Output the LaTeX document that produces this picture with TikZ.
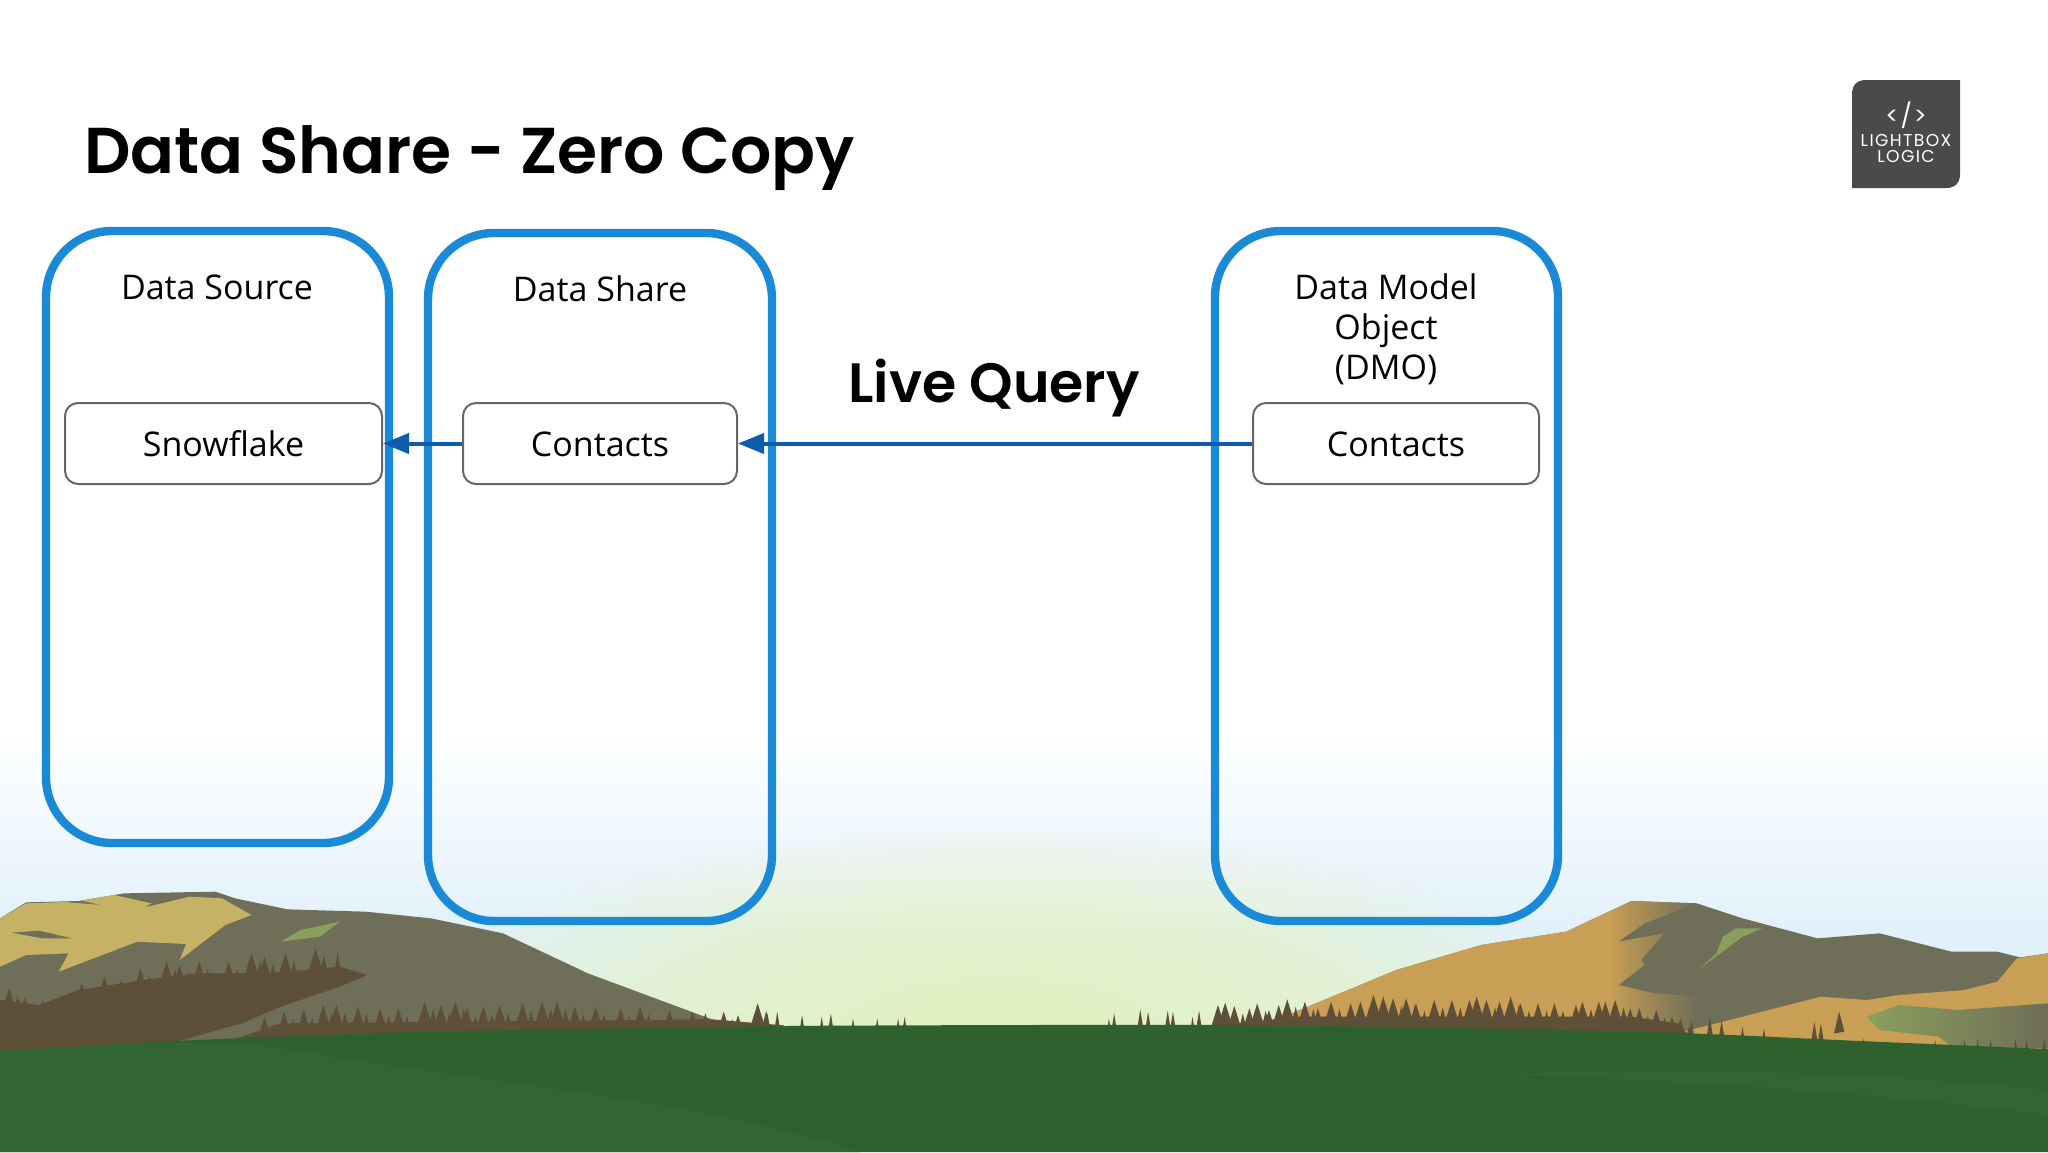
\documentclass[tikz,border=0pt]{standalone}
\usepackage{fontspec}
\setmainfont{Open Sans}
\newfontfamily\titlefont[UprightFont=* SemiBold,BoldFont=* SemiBold]{Poppins}
\newfontfamily\logofont[LetterSpace=8]{Poppins}
\usetikzlibrary{arrows.meta}
\definecolor{blueframe}{HTML}{1A8AD6}
\definecolor{arrowblue}{HTML}{0F5CAD}
\definecolor{boxedge}{HTML}{666666}
\definecolor{logogrey}{HTML}{4A4A4A}
\definecolor{skyblue}{HTML}{E1F1FA}
\definecolor{glowcol}{HTML}{FAF3B8}
\definecolor{rock}{HTML}{6F6E58}
\definecolor{forestcol}{HTML}{5D4F38}
\definecolor{sand}{HTML}{C6B264}
\definecolor{gold}{HTML}{C99F55}
\definecolor{leaf}{HTML}{8A9F5C}
\definecolor{grassbase}{HTML}{2E612E}
\definecolor{grasslight}{HTML}{326533}
\pgfdeclarehorizontalshading{goldrock}{100bp}{color(0bp)=(gold);color(25bp)=(gold);color(60bp)=(gold);color(70bp)=(rock);color(100bp)=(rock)}
\pgfdeclarehorizontalshading{leafrock}{100bp}{color(0bp)=(leaf);color(25bp)=(leaf);color(75bp)=(rock);color(100bp)=(rock)}
\newcommand{\treetips}[1]{\foreach \t/\h in {#1}{\fill[forestcol] (\t-16,\h+100) -- (\t,\h) -- (\t+16,\h+100) -- cycle; \fill[forestcol] (\t+1,\h+120) -- (\t+13,\h+22) -- (\t+25,\h+120) -- cycle;}}
\newcommand{\smalltips}[1]{\foreach \t/\h in {#1}{\fill[forestcol] (\t-8,\h+100) -- (\t,\h) -- (\t+8,\h+100) -- cycle;}}
\tikzset{
  frame/.style={draw=blueframe,line width=4.2pt,rounded corners=33pt},
  itembox/.style={draw=boxedge,line width=1pt,fill=white,rounded corners=6.5pt,inner sep=0pt,font=\fontsize{17}{20}\selectfont,text=black,text depth=0pt,text height=13.2pt},
  heading/.style={font=\fontsize{17}{20}\selectfont,text=black,align=center,inner sep=0pt},
  flow/.style={draw=arrowblue,line width=2pt,-{Triangle[length=13pt,width=10pt]}},
  zoomleft/.style={shift={(0pt,-420pt)},x=0.32658pt,y=-0.16667pt},
  zoomright/.style={shift={(512pt,-420pt)},x=0.32658pt,y=-0.16667pt}
}
\begin{document}
\begin{tikzpicture}[x=0.5pt,y=-0.5pt]
\useasboundingbox (0,0) rectangle (2048,1152);
% sky
\fill[white] (0,0) rectangle (2048,1152);
\shade[top color=white,bottom color=skyblue] (0,730) rectangle (2048,930);
\fill[skyblue] (0,929) rectangle (2048,1152);
\begin{scope}
\clip (0,0) rectangle (2048,1060);
\foreach \r in {1,...,40}{
  \fill[glowcol,opacity=0.035] (1000,1030) ellipse ({15*\r} and {5*\r});
}
\end{scope}
% left mountain
\begin{scope}[zoomleft]
\fill[rock] (0,235) -- (40,187) -- (120,183) -- (190,160) -- (330,155) -- (360,175) -- (440,208) -- (560,215) -- (660,235) -- (770,280) -- (900,400) -- (1120,560) -- (1120,650) -- (0,650) -- cycle;
\fill[sand] (0,235) -- (40,190) -- (100,186) -- (155,195) -- (125,182) -- (175,165) -- (232,190) -- (222,202) -- (290,170) -- (340,175) -- (385,225) -- (345,255) -- (275,360) -- (285,312) -- (210,305) -- (90,395) -- (105,340) -- (40,345) -- (0,380) -- cycle;
\fill[rock] (18,278) -- (60,272) -- (110,295) -- (65,295) -- cycle;
\fill[leaf] (430,305) -- (460,270) -- (520,245) -- (490,290) -- cycle;
\fill[forestcol] (0,650) -- (0,480) -- (60,495) -- (120,450) -- (220,420) -- (300,400) -- (370,400) -- (440,395) -- (520,380) -- (562,405) -- (520,440) -- (430,500) -- (370,550) -- (270,605) -- (270,650) -- cycle;
\treetips{14/445,38/470,65/480,100/470,125/430,160/410,185/420,215/385,255/365,275/375,305/365,350/365,385/340,405/350,437/340,483/325}
\smalltips{517/335}
\fill[forestcol] (340,610) -- (430,550) -- (1090,538) -- (1200,556) -- (1200,620) -- cycle;
\treetips{405/530,435/515,465/510,495/495,515/495,548/500,582/505,610/505,650/485,675/495,697/485,715/505,740/500,765/495,800/490,830/485,853/485,880/500,912/500,950/505,980/500,1025/510,1060/515,1080/520,1108/515,1130/525,1160/490}
\smalltips{1175/520,1190/515,1228/525,1258/530,1272/520,1306/535,1343/535,1375/535,1385/530}
\end{scope}
% right mountain
\begin{scope}[zoomright]
\fill[rock] (410,520) -- (570,390) -- (700,315) -- (830,275) -- (930,183) -- (1030,190) -- (1100,235) -- (1215,295) -- (1310,280) -- (1420,335) -- (1490,335) -- (1525,352) -- (1568,340) -- (1568,650) -- (410,650) -- cycle;
\shade[shading=goldrock] (410,520) -- (570,390) -- (700,315) -- (830,275) -- (930,183) -- (1030,190) -- (950,250) -- (910,305) -- (980,280) -- (945,360) -- (950,375) -- (910,435) -- (965,460) -- (1040,470) -- (1100,600) -- (410,600) -- cycle;
\fill[gold] (1010,575) -- (1100,530) -- (1220,470) -- (1290,480) -- (1340,465) -- (1440,450) -- (1490,425) -- (1520,355) -- (1568,340) -- (1568,650) -- (1000,650) -- cycle;
\shade[shading=leafrock] (1290,530) -- (1340,495) -- (1430,510) -- (1568,490) -- (1568,625) -- (1420,620) -- (1400,590) -- (1310,570) -- cycle;
\fill[leaf] (1130,265) -- (1090,265) -- (1070,290) -- (1060,340) -- (1035,385) -- (1080,320) -- (1100,290) -- cycle;
\fill[forestcol] (280,560) -- (420,530) -- (930,530) -- (1000,550) -- (1030,610) -- (280,610) -- cycle;
\smalltips{130/535,138/520,178/508,190/515,220/512,228/515,258/530,268/512}
\treetips{297/495,308/488,322/498,345/505,357/490,375/510,390/495,403/478,430/485,450/505,470/485,500/490,515/485,535/465,550/470,565/475,585/475,600/490,628/480,655/480,682/480,693/470,708/480,728/485,745/470,760/490,787/490,812/490,845/495,855/485,880/485,890/485,905/480,928/505,942/505,968/510,992/530,1005/535}
\smalltips{1022/540,1050/530,1068/540,1100/560,1133/565,1150/590,1210/545,1220/550,1285/595,1395/600,1440/600,1460/598,1480/600,1518/598,1535/600,1562/595}
\fill[forestcol] (1240,580) -- (1248,515) -- (1256,575) -- cycle;
\end{scope}
% grass
\fill[grassbase] plot[smooth,tension=0.6] coordinates {(0,1051) (196,1040) (420,1032) (653,1028) (784,1026) (1024,1025) (1220,1025) (1450,1028) (1677,1033) (1860,1041) (2048,1049)} -- (2048,1152) -- (0,1152) -- cycle;
\fill[grasslight] (0,1051) .. controls (120,1044) and (220,1038) .. (290,1050) .. controls (500,1085) and (700,1100) .. (860,1152) -- (0,1152) -- cycle;
\fill[grasslight] (1500,1075) .. controls (1700,1080) and (1900,1095) .. (2048,1115) -- (2048,1090) .. controls (1900,1075) and (1700,1065) .. (1500,1075) -- cycle;
% frames
\draw[frame] (46,231) rectangle (389,843);
\draw[frame] (428,233) rectangle (772,921);
\draw[frame] (1215,231) rectangle (1558,921);
% headings
\node[heading] (dsrc) at (217,287) {Data Source};
\node[heading] (dshr) at (600,288.5) {Data Share};
\node[heading] (dmo) at (1386,329) {Data Model\\Object\\(DMO)};
% item boxes
\node[itembox,minimum width=158.5pt,minimum height=40.5pt] (snow) at (223.5,443.5) {Snowflake};
\node[itembox,minimum width=137pt,minimum height=40.5pt] (cmid) at (600,443.5) {Contacts};
\node[itembox,minimum width=143pt,minimum height=40.5pt] (cdmo) at (1396,443.5) {Contacts};
\draw[flow] (cmid.west) -- (snow.east);
\draw[flow] (cdmo.west) -- (cmid.east);
% title texts
\node[anchor=west,inner sep=0pt,font=\titlefont\fontsize{32.4}{36}\selectfont] (ttl) at (84,158) {Data Share - Zero Copy};
\node[inner sep=0pt,font=\titlefont\fontsize{27.7}{30}\selectfont] (lq) at (994,388) {Live Query};
% logo
\fill[logogrey] (1866,80) -- (1960,80) -- (1960,174) .. controls (1960,183) and (1955,188) .. (1946,188) -- (1852,188) -- (1852,94) .. controls (1852,85) and (1857,80) .. (1866,80) -- cycle;
\node[inner sep=0pt,text=white,font=\logofont\fontsize{12}{12}\selectfont] (lg1) at (1906,115) {</>};
\node[inner sep=0pt,text=white,font=\logofont\fontsize{8.6}{8}\selectfont] (lg2) at (1906,140) {LIGHTBOX};
\node[inner sep=0pt,text=white,font=\logofont\fontsize{8.6}{8}\selectfont] (lg3) at (1906,156) {LOGIC};
\end{tikzpicture}
\end{document}
